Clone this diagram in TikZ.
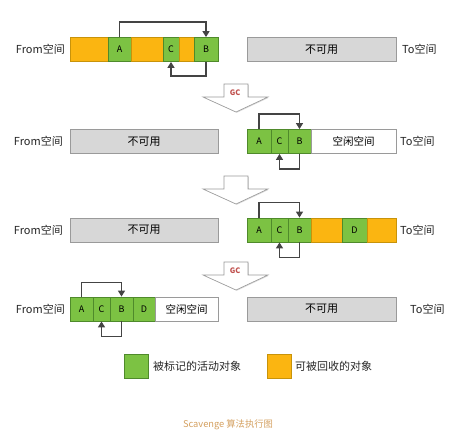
\documentclass[tikz,border=0pt]{standalone}
\usepackage{fontspec}
\setmainfont{Noto Sans CJK SC}
\usetikzlibrary{arrows.meta,shadows}
\definecolor{gfill}{HTML}{7CC243}
\definecolor{gline}{HTML}{4F8A2B}
\definecolor{ofill}{HTML}{FBB511}
\definecolor{oline}{HTML}{C8930A}
\definecolor{grayfill}{HTML}{D7D7D7}
\definecolor{grayline}{HTML}{9A9A9A}
\definecolor{flowc}{HTML}{444444}
\definecolor{gcred}{HTML}{C0504D}
\definecolor{capc}{HTML}{D4A060}
\tikzset{
  cellbase/.style={draw, line width=0.8pt, minimum height=24pt, inner sep=0pt, font=\fontsize{9}{10}\selectfont, text=black},
  gcell/.style={cellbase, fill=gfill, draw=gline},
  ocell/.style={cellbase, fill=ofill, draw=oline},
  wcell/.style={cellbase, fill=white, draw=grayline, font=\fontsize{10.5}{11}\selectfont},
  nabox/.style={cellbase, fill=grayfill, draw=grayline, minimum width=149pt, font=\fontsize{11}{12}\selectfont, drop shadow={shadow xshift=0.6pt, shadow yshift=-0.6pt, opacity=0.25}},
  spacelbl/.style={font=\fontsize{11}{12}\selectfont, text=black!85, inner sep=0pt},
  flow/.style={draw=flowc, line width=1.3pt, -{Triangle[length=6pt,width=7pt]}},
  gcarrow/.style={draw=black!40, fill=white, line width=0.6pt, drop shadow={shadow xshift=0.8pt, shadow yshift=-0.8pt, opacity=0.3}},
  gclbl/.style={font=\fontsize{7.5}{8}\selectfont\bfseries, text=gcred, inner sep=0pt},
  leglbl/.style={font=\fontsize{11}{12}\selectfont, text=black!85, inner sep=0pt, anchor=west}
}
\begin{document}
\begin{tikzpicture}[x=1pt,y=-1pt]
\useasboundingbox (0,0) rectangle (474,436);
% ---------- Row 1 ----------
\node[spacelbl, anchor=east] (f1) at (65,49.5) {From空间};
\node[ocell, minimum width=38pt] (r1o1) at (89,49.5) {};
\node[gcell, minimum width=23pt] (r1A) at (119.5,49.5) {A};
\node[ocell, minimum width=32pt] (r1o2) at (147,49.5) {};
\node[gcell, minimum width=16pt] (r1C) at (171,49.5) {C};
\node[ocell, minimum width=15pt] (r1o3) at (186.5,49.5) {};
\node[gcell, minimum width=24pt] (r1B) at (206,49.5) {B};
\draw[flow] (r1A.north) -- ++(0,-15) -| (r1B.north);
\draw[flow] (r1B.south) -- ++(0,14) -| (r1C.south);
\node[nabox] (r1na) at (321.5,49.5) {不可用};
\node[spacelbl, anchor=west] (t1) at (402,49.5) {To空间};
% ---------- GC arrow 1 ----------
\path[gcarrow] (224,84) -- (248,84) -- (248,97) -- (268,97) -- (236,112) -- (203,97) -- (224,97) -- cycle;
\node[gclbl] (gc1) at (235,93) {GC};
% ---------- Row 2 ----------
\node[spacelbl, anchor=east] (f2) at (63,141.5) {From空间};
\node[nabox, minimum width=148pt] (r2na) at (144,141.5) {不可用};
\node[gcell, minimum width=24pt] (r2A) at (259,141.5) {A};
\node[gcell, minimum width=17pt] (r2C) at (279.5,141.5) {C};
\node[gcell, minimum width=23pt] (r2B) at (299.5,141.5) {B};
\node[wcell, minimum width=85pt] (r2free) at (353.5,141.5) {空闲空间};
\draw[flow] (r2A.north) -- ++(0,-15) -| (r2B.north);
\draw[flow] (r2B.south) -- ++(0,15) -| (r2C.south);
\node[spacelbl, anchor=west] (t2) at (400,141.5) {To空间};
% ---------- arrow 2 ----------
\path[gcarrow] (224,176) -- (248,176) -- (248,189) -- (268,189) -- (236,204) -- (203,189) -- (224,189) -- cycle;
% ---------- Row 3 ----------
\node[spacelbl, anchor=east] (f3) at (63,230) {From空间};
\node[nabox, minimum width=148pt] (r3na) at (144,230) {不可用};
\node[gcell, minimum width=24pt] (r3A) at (259,230) {A};
\node[gcell, minimum width=17pt] (r3C) at (279.5,230) {C};
\node[gcell, minimum width=23pt] (r3B) at (299.5,230) {B};
\node[ocell, minimum width=31pt] (r3o1) at (326.5,230) {};
\node[gcell, minimum width=25pt] (r3D) at (354.5,230) {D};
\node[ocell, minimum width=29pt] (r3o2) at (381.5,230) {};
\draw[flow] (r3A.north) -- ++(0,-15) -| (r3B.north);
\draw[flow] (r3B.south) -- ++(0,15) -| (r3C.south);
\node[spacelbl, anchor=west] (t3) at (400,230) {To空间};
% ---------- GC arrow 3 ----------
\path[gcarrow] (224,262) -- (248,262) -- (248,275) -- (268,275) -- (236,290) -- (203,275) -- (224,275) -- cycle;
\node[gclbl] (gc3) at (235,271) {GC};
% ---------- Row 4 ----------
\node[spacelbl, anchor=east] (f4) at (65,309) {From空间};
\node[gcell, minimum width=23pt] (r4A) at (81.5,309) {A};
\node[gcell, minimum width=17pt] (r4C) at (101.5,309) {C};
\node[gcell, minimum width=23pt] (r4B) at (121.5,309) {B};
\node[gcell, minimum width=22pt] (r4D) at (144,309) {D};
\node[wcell, minimum width=63pt] (r4free) at (186.5,309) {空闲空间};
\draw[flow] (r4A.north) -- ++(0,-14) -| (r4B.north);
\draw[flow] (r4B.south) -- ++(0,15) -| (r4C.south);
\node[nabox] (r4na) at (321.5,309) {不可用};
\node[spacelbl, anchor=west] (t4) at (410,309) {To空间};
% ---------- Legend ----------
\node[gcell, minimum width=24pt] (lg) at (136,366) {};
\node[leglbl] (lgt) at (153,366) {被标记的活动对象};
\node[ocell, minimum width=24pt] (lo) at (279,366) {};
\node[leglbl] (lot) at (295,366) {可被回收的对象};
% ---------- Caption ----------
\node[font=\fontsize{9.3}{10}\selectfont, text=capc, inner sep=0pt] (cap) at (228,425) {Scavenge 算法执行图};
\end{tikzpicture}
\end{document}
